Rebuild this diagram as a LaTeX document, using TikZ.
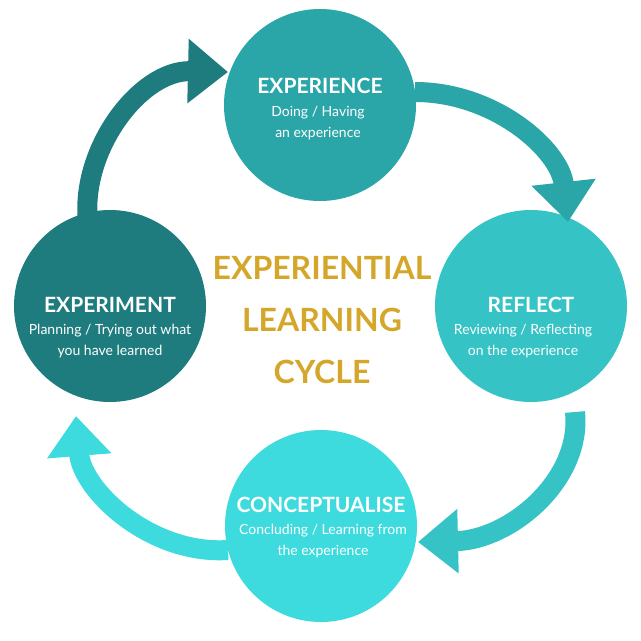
\documentclass[tikz,border=0pt]{standalone}
\usepackage{fontspec}
\setmainfont{Lato}
\usetikzlibrary{arrows.meta}
\definecolor{cexp}{HTML}{2BA6A8}
\definecolor{cref}{HTML}{35C3C6}
\definecolor{ccon}{HTML}{3DDBDE}
\definecolor{cexm}{HTML}{1F7C7E}
\definecolor{gold}{HTML}{D4A62A}
\begin{document}
\begin{tikzpicture}[x=1pt,y=-1pt,
    stage/.style = {circle, minimum size = 192pt, inner sep = 0pt},
    title/.style = {font=\fontsize{21}{24}\selectfont\bfseries, text=white},
    body/.style = {font=\fontsize{14}{21}\selectfont, text=white, align=center},
    flow/.style = {line width = 20pt, -{Triangle[length=40pt,width=62pt]}}
    ]
    \useasboundingbox (0,0) rectangle (641,641);

    \node[stage, fill = cexp] (experience) at (320,105) {};
    \node[stage, fill = cref] (reflect) at (531,306) {};
    \node[stage, fill = ccon] (concept) at (321,526) {};
    \node[stage, fill = cexm] (experiment) at (110,306) {};

    \node[title] at (320,86) {EXPERIENCE};
    \node[body] at (318,123) {Doing / Having\\an experience};
    \node[title] at (531,305) {REFLECT};
    \node[body] at (523,341) {Reviewing / Reflecting\\on the experience};
    \node[title] at (321,505) {CONCEPTUALISE};
    \node[body] at (323,541) {Concluding / Learning from\\the experience};
    \node[title] at (110,305) {EXPERIMENT};
    \node[body] at (110,341) {Planning / Trying out what\\you have learned};

    \node[font=\fontsize{32}{52}\selectfont\bfseries, text=gold, align=center]
        (cycle) at (322,320) {EXPERIENTIAL\\LEARNING\\CYCLE};

    \coordinate (a1) at (88,222);
    \coordinate (b1) at (228,72);
    \coordinate (a2) at (415,92);
    \coordinate (b2) at (568,222);
    \coordinate (a3) at (575,412);
    \coordinate (b3) at (418,542);
    \coordinate (a4) at (228,550);
    \coordinate (b4) at (76,416);

    \draw[flow, draw = cexm] (a1) .. controls (80,150) and (140,70) .. (b1);
    \draw[flow, draw = cexp] (a2) .. controls (495,92) and (560,150) .. (b2);
    \draw[flow, draw = cref] (a3) .. controls (582,480) and (510,540) .. (b3);
    \draw[flow, draw = ccon] (a4) .. controls (150,555) and (82,490) .. (b4);

\end{tikzpicture}
\end{document}
